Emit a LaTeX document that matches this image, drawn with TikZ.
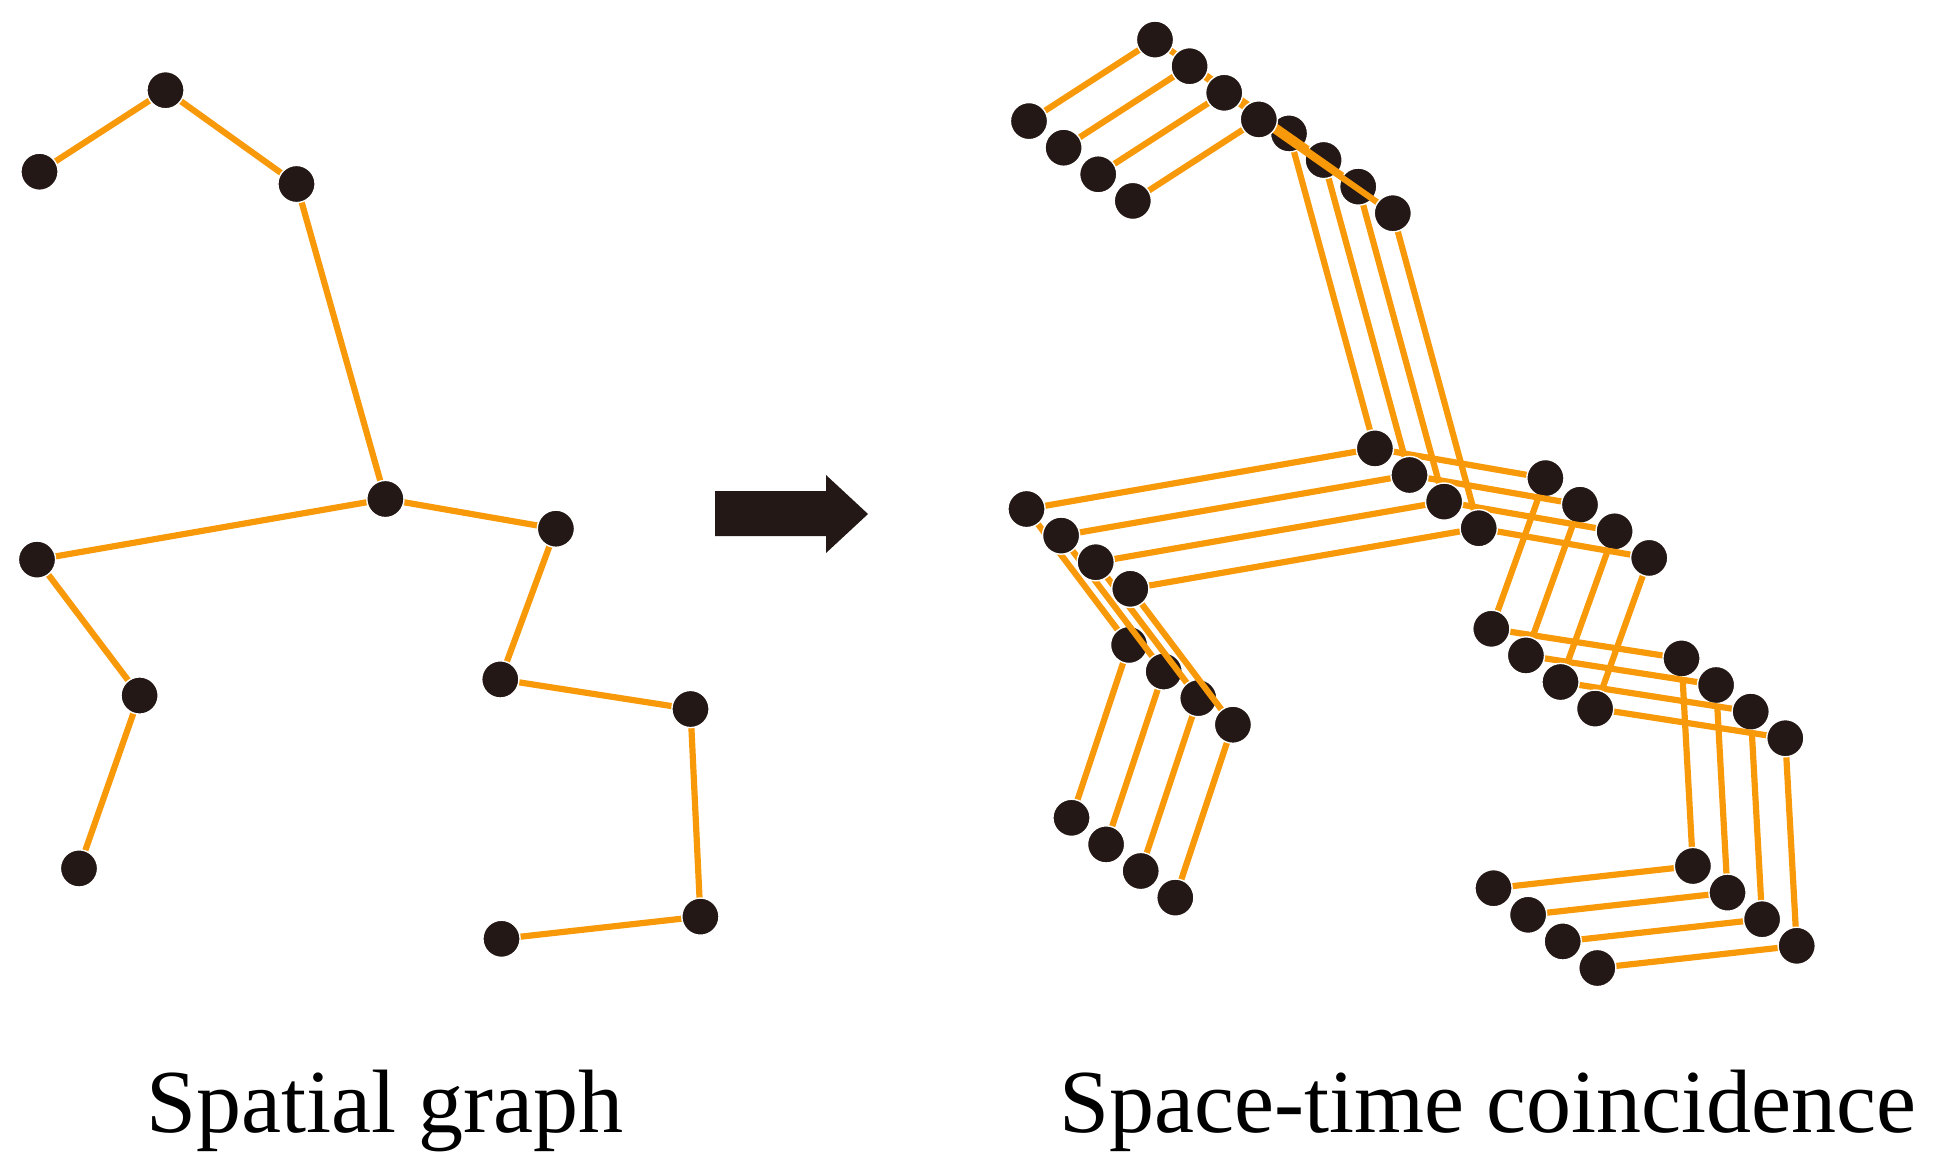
\documentclass[tikz,border=0pt]{standalone}
\usepackage{fontspec}
\setmainfont{Liberation Serif}
\definecolor{edgeor}{HTML}{F8990A}
\definecolor{dotbk}{HTML}{231815}
% #1 suffix, #2 dx, #3 dy, #4 weight of small right-side corrections
\newcommand\skel[4]{%
  \coordinate (a#1) at ({165.5+#2},{90.2+#3});
  \coordinate (b#1) at ({39.5+#2},{171.7+#3});
  \coordinate (c#1) at ({296.5+#2+3*#4},{184+#3});
  \coordinate (d#1) at ({385.4+#2},{499+#3});
  \coordinate (e#1) at ({37+#2},{559.6+#3});
  \coordinate (f#1) at ({555.9+#2},{528.7+#3});
  \coordinate (g#1) at ({139.6+#2},{695.5+#3});
  \coordinate (h#1) at ({79+#2+3*#4},{868.4+#3});
  \coordinate (i#1) at ({500.3+#2+1.5*#4},{679.4+#3});
  \coordinate (j#1) at ({690.5+#2+1.5*#4},{709+#3});
  \coordinate (k#1) at ({700.4+#2+3*#4},{916.6+#3});
  \coordinate (l#1) at ({501.5+#2+2.5*#4},{938.8+#3});
  \draw[edge] (b#1) -- (a#1) -- (c#1) -- (d#1) -- (e#1) -- (g#1) -- (h#1);
  \draw[edge] (d#1) -- (f#1) -- (i#1) -- (j#1) -- (k#1) -- (l#1);
  \foreach \v in {a,b,c,d,e,f,g,h,i,j,k,l} {\node[dot] (\v#1dot) at (\v#1) {};}
}
\begin{document}
\begin{tikzpicture}[x=0.5pt,y=-0.5pt,
  edge/.style={draw=edgeor, line width=3.1pt},
  dot/.style={circle, fill=dotbk, draw=white, line width=0.7pt, minimum size=18.6pt, inner sep=0pt},
  captext/.style={font=\fontsize{45}{54}\selectfont, anchor=base, inner sep=0pt}]
\useasboundingbox (0,0) rectangle (1937,1173);
% spatial graph
\skel{L}{0}{0}{0}
% space-time copies
\skel{1}{989.5}{-50.6}{1}
\skel{2}{1024.1}{-24}{1}
\skel{3}{1058.7}{2.6}{1}
\skel{4}{1093.3}{29.2}{1}
% block arrow
\fill[dotbk] (715,491) -- (826,491) -- (826,475) -- (868,514) -- (826,553) -- (826,536) -- (715,536) -- cycle;
% captions
\node[captext] (capL) at (385,1132) {Spatial graph};
\node[captext] (capR) at (1488,1132) {Space-time coincidence};
\end{tikzpicture}
\end{document}
